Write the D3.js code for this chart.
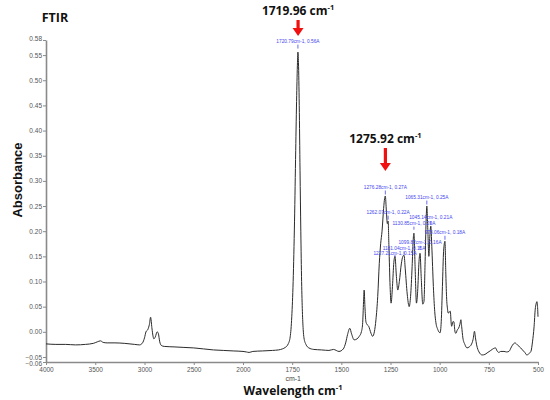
<!DOCTYPE html>
<html>
<head>
<meta charset="utf-8">
<script src="https://cdn.jsdelivr.net/npm/d3@7"></script>
<style>
  body { margin: 0; background: #fff; }
  svg { display: block; }
  .tick text { font-family: Arial, "Liberation Sans", sans-serif; font-size: 6.5px; fill: #555; }
</style>
</head>
<body>
<div id="chart"></div>
<script>
// spectrum (wavenumber cm-1 -> absorbance)
var wavenumber = [4000, 3900, 3800, 3700, 3600, 3520, 3480, 3447, 3420, 3380, 3300, 3200, 3100, 3050, 3020, 3000,
  2985, 2965, 2950, 2938, 2925, 2912, 2905, 2890, 2872, 2860, 2845, 2830, 2800, 2700, 2600, 2500, 2400, 2300,
  2200, 2100, 2000, 1983, 1969, 1950, 1900, 1850, 1820, 1800, 1785, 1770, 1760, 1752, 1745, 1738, 1732, 1727,
  1723, 1720.8, 1718, 1714, 1710, 1706, 1702, 1698, 1694, 1690, 1680, 1665, 1640, 1600, 1563, 1540, 1512, 1490,
  1478, 1468, 1457, 1448, 1435, 1420, 1409, 1398, 1392, 1387, 1384, 1380, 1375, 1370, 1361, 1349, 1341, 1332,
  1324, 1315, 1307, 1300, 1293, 1285, 1280, 1276.3, 1271, 1266, 1262, 1258, 1252, 1247, 1240, 1233, 1227.2,
  1220, 1213, 1205, 1195, 1187, 1181, 1175, 1165, 1155, 1148, 1140, 1135, 1130.9, 1125, 1118, 1112, 1105, 1099.8,
  1094, 1086, 1080, 1074, 1069, 1065.3, 1060, 1055, 1050, 1045.1, 1040, 1032, 1025, 1019, 1010, 998, 992, 986,
  980, 973, 969, 965, 960, 956, 950, 946, 941, 939, 933, 928, 922, 918, 910, 904, 897, 892, 888, 882, 872, 861,
  850, 840, 830, 823, 818, 812, 800, 784, 770, 759, 740, 725, 716, 708, 699, 690, 673, 660, 648, 635, 625, 617,
  605, 596, 588, 579, 567, 557, 545, 536, 528, 520, 514, 510, 505, 502, 500];
var absorbance = [-0.024, -0.025, -0.025, -0.026, -0.025, -0.023, -0.020, -0.018, -0.021, -0.022, -0.022, -0.023, -0.025, -0.026, -0.022, -0.012,
  0.000, 0.005, 0.015, 0.029, 0.008, -0.010, -0.014, -0.010, 0.000, -0.003, -0.020, -0.027, -0.029, -0.030, -0.031, -0.032, -0.034, -0.036,
  -0.037, -0.038, -0.039, -0.040, -0.041, -0.039, -0.038, -0.037, -0.036, -0.034, -0.031, -0.024, -0.010, 0.030, 0.100, 0.220, 0.360, 0.470,
  0.535, 0.556, 0.535, 0.450, 0.320, 0.200, 0.100, 0.040, 0.005, -0.012, -0.025, -0.032, -0.035, -0.036, -0.037, -0.035, -0.039, -0.034,
  -0.022, -0.005, 0.007, -0.004, -0.016, -0.014, -0.009, 0.000, 0.015, 0.060, 0.083, 0.050, 0.020, 0.015, 0.011, -0.003, -0.009, 0.000,
  0.024, 0.070, 0.136, 0.175, 0.200, 0.245, 0.265, 0.270, 0.240, 0.215, 0.220, 0.170, 0.090, 0.057, 0.090, 0.138, 0.150,
  0.110, 0.083, 0.100, 0.135, 0.150, 0.152, 0.125, 0.075, 0.050, 0.070, 0.130, 0.180, 0.196, 0.130, 0.057, 0.080, 0.140, 0.156,
  0.110, 0.055, 0.060, 0.140, 0.220, 0.250, 0.200, 0.150, 0.190, 0.210, 0.170, 0.090, 0.040, 0.018, 0.005, -0.002, 0.020, 0.090,
  0.160, 0.180, 0.120, 0.070, 0.045, 0.037, 0.040, 0.041, 0.015, 0.011, 0.020, 0.020, 0.000, -0.003, 0.004, 0.007, 0.015, 0.024, 0.010, -0.012, -0.025, -0.032,
  -0.030, -0.026, -0.015, 0.001, -0.012, -0.026, -0.040, -0.046, -0.045, -0.042, -0.037, -0.033, -0.032, -0.038, -0.041, -0.039, -0.039, -0.040, -0.039, -0.030, -0.024, -0.022,
  -0.026, -0.029, -0.032, -0.036, -0.041, -0.046, -0.043, -0.039, -0.020, 0.010, 0.045, 0.055, 0.060, 0.048, 0.030];

// peak annotations printed by the instrument software
var peakWavenumbers = [1720.79, 1276.28, 1065.31, 1262.07, 1045.14, 1130.85, 973.06, 1099.82, 1181.04, 1227.21];
var peakValues = [0.56, 0.27, 0.25, 0.22, 0.21, 0.20, 0.18, 0.16, 0.15, 0.15];

// highlighted bands
var calloutWavenumbers = [1719.96, 1275.92];
var calloutLabels = ["1719.96", "1275.92"];

var xTicks = [4000, 3500, 3000, 2500, 2000, 1750, 1500, 1250, 1000, 750, 500];
var yTicks = [0.58, 0.55, 0.50, 0.45, 0.40, 0.35, 0.30, 0.25, 0.20, 0.15, 0.10, 0.05, 0.00, -0.05, -0.06];

var width = 550, height = 400;
var svg = d3.select("#chart").append("svg")
  .attr("width", width)
  .attr("height", height);

// OMNIC style axis: region below 2000 cm-1 is expanded 2x
var x = d3.scaleLinear()
  .domain([4000, 2000, 500])
  .range([46, 243, 538]);

var y = d3.scaleLinear()
  .domain([-0.06, 0.58])
  .range([362, 40]);

var xAxis = svg.append("g")
  .attr("transform", "translate(0,362)")
  .call(d3.axisBottom(x).tickValues(xTicks).tickSize(3).tickPadding(2).tickSizeOuter(0).tickFormat(d3.format("d")));
var yAxis = svg.append("g")
  .attr("transform", "translate(46,0)")
  .call(d3.axisLeft(y).tickValues(yTicks).tickSize(3).tickPadding(1).tickSizeOuter(0).tickFormat(d3.format(".2f")));

[xAxis, yAxis].forEach(function(g) {
  g.select(".domain").attr("stroke", "#8a8a8a").attr("stroke-width", 1.6);
  g.selectAll(".tick line").attr("stroke", "#8a8a8a");
});

// end labels sit tight against their neighbours, nudge them apart a touch
yAxis.selectAll(".tick text")
  .filter(function(d) { return d === -0.06 || d === 0.58; })
  .attr("dy", function(d) { return d < 0 ? "0.6em" : "0.1em"; });

// spectrum
var points = wavenumber.map(function(w, i) { return [w, absorbance[i]]; });
var line = d3.line()
  .x(function(d) { return x(d[0]); })
  .y(function(d) { return y(d[1]); })
  .curve(d3.curveMonotoneX);

svg.append("path")
  .datum(points)
  .attr("d", line)
  .attr("fill", "none")
  .attr("stroke", "#2b2b2b")
  .attr("stroke-width", 1);

// peak labels, stacked so they don't sit on top of each other
var lastY = -100;
peakWavenumbers.forEach(function(w, i) {
  var py = y(peakValues[i]);
  var ly = Math.max(py - 9, lastY + 5.5);
  lastY = ly;
  svg.append("text")
    .attr("x", x(w))
    .attr("y", ly + 1.8)
    .attr("text-anchor", "middle")
    .attr("font-family", "Arial, 'Liberation Sans', sans-serif")
    .attr("font-size", 4.8)
    .attr("fill", "#4646f0")
    .text(w.toFixed(2) + "cm-1, " + peakValues[i].toFixed(2) + "A");
  svg.append("line")
    .attr("x1", x(w)).attr("x2", x(w))
    .attr("y1", ly + 3.5).attr("y2", Math.min(ly + 8, py - 1.5))
    .attr("stroke", "#4646f0")
    .attr("stroke-width", 0.8);
});

// red arrows with bold band positions
var calloutTip = [36, 171];
var calloutStem = [8, 15];
calloutWavenumbers.forEach(function(w, i) {
  var cx = x(w), tip = calloutTip[i];
  var stemTop = tip - 8 - calloutStem[i];
  var t = svg.append("text")
    .attr("x", cx)
    .attr("y", stemTop - 5)
    .attr("text-anchor", "middle")
    .attr("font-family", "'Open Sans', 'Liberation Sans', sans-serif")
    .attr("font-weight", "bold")
    .attr("font-size", 12)
    .attr("fill", "#111");
  t.append("tspan").text(calloutLabels[i] + " cm");
  t.append("tspan").attr("dy", -5).attr("font-size", 7.5).text("-1");
  svg.append("rect")
    .attr("x", cx - 1.6).attr("y", stemTop)
    .attr("width", 3.2).attr("height", tip - 8 - stemTop)
    .attr("fill", "#f01010");
  svg.append("path")
    .attr("d", "M" + (cx - 5.5) + "," + (tip - 8) + "L" + (cx + 5.5) + "," + (tip - 8) + "L" + cx + "," + tip + "Z")
    .attr("fill", "#f01010");
});

// titles
svg.append("text")
  .attr("x", 55).attr("y", 22)
  .attr("text-anchor", "middle")
  .attr("font-family", "'Open Sans', 'Liberation Sans', sans-serif")
  .attr("font-weight", "bold").attr("font-size", 12.5)
  .attr("fill", "#111")
  .text("FTIR");

svg.append("text")
  .attr("transform", "translate(22,180) rotate(-90)")
  .attr("text-anchor", "middle")
  .attr("font-family", "Arial, 'Liberation Sans', sans-serif")
  .attr("font-weight", "bold").attr("font-size", 13)
  .attr("fill", "#111")
  .text("Absorbance");

svg.append("text")
  .attr("x", x(1750) + 1).attr("y", 381)
  .attr("text-anchor", "middle")
  .attr("font-family", "Arial, 'Liberation Sans', sans-serif")
  .attr("font-size", 7)
  .attr("fill", "#444")
  .text("cm-1");

var xl = svg.append("text")
  .attr("x", 293).attr("y", 395)
  .attr("text-anchor", "middle")
  .attr("font-family", "'Open Sans', 'Liberation Sans', sans-serif")
  .attr("font-weight", "bold").attr("font-size", 12)
  .attr("fill", "#111");
xl.append("tspan").text("Wavelength cm");
xl.append("tspan").attr("dy", -5).attr("font-size", 7.5).text("-1");
</script>
</body>
</html>
